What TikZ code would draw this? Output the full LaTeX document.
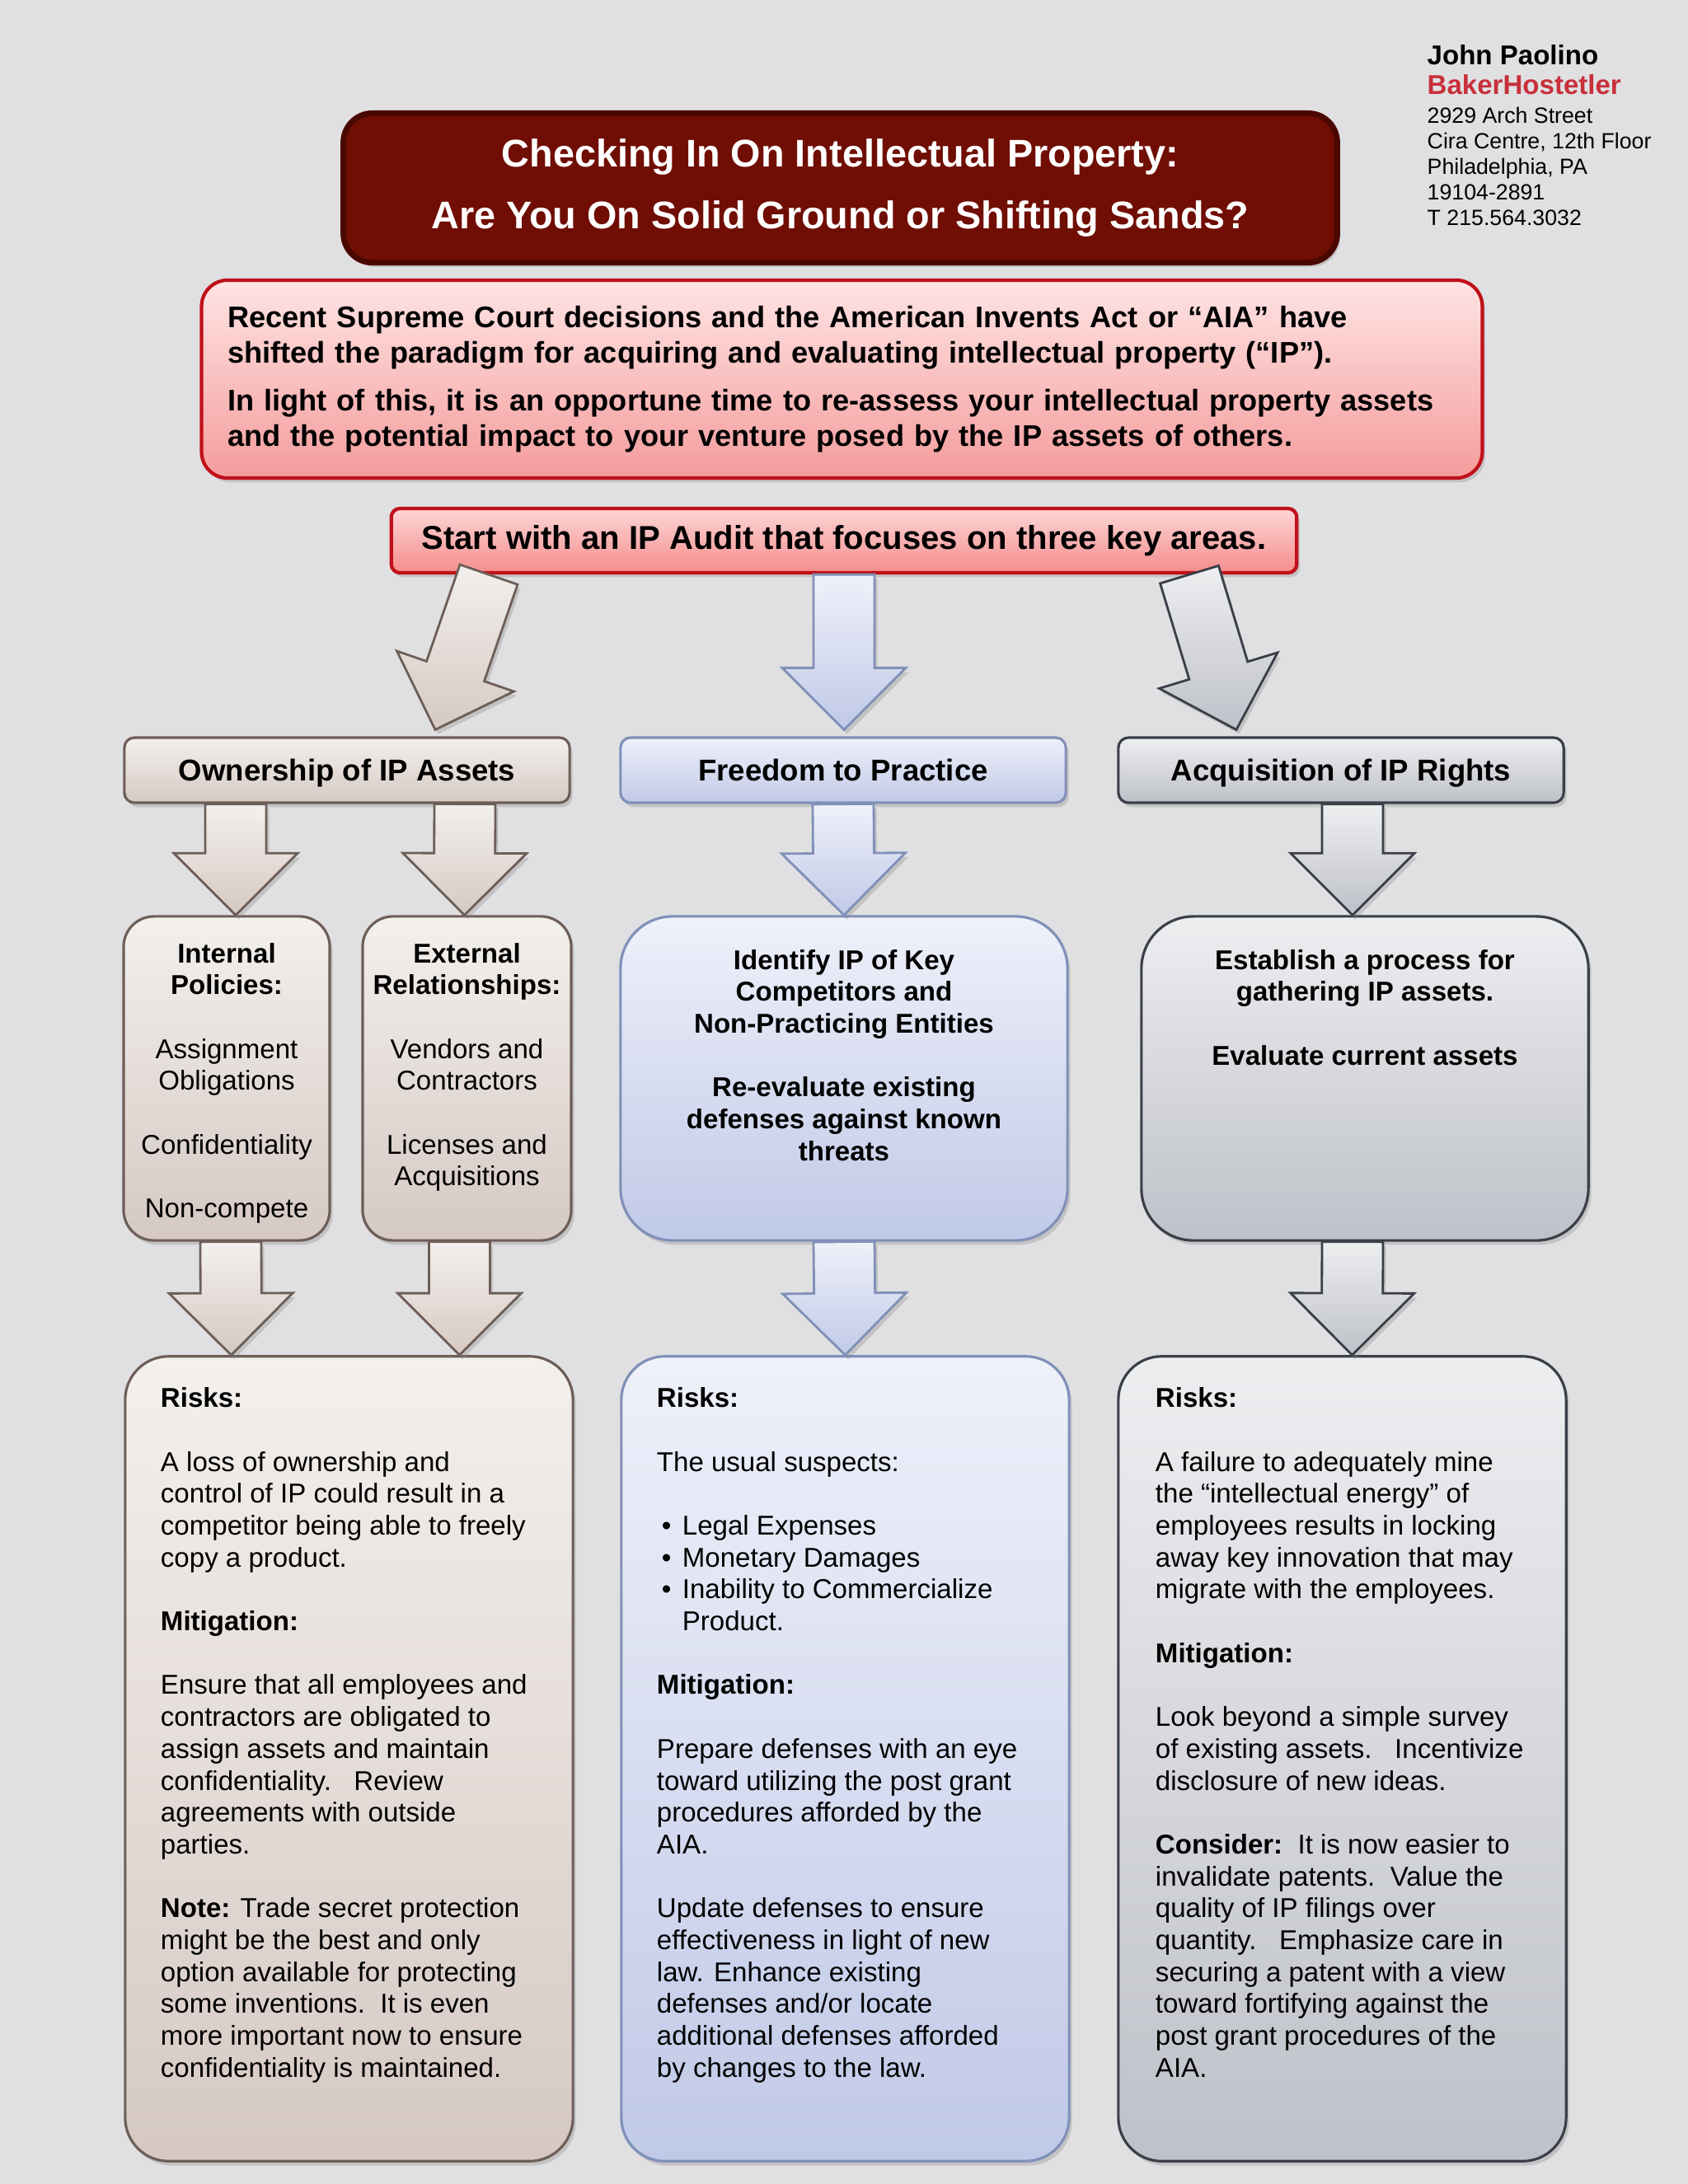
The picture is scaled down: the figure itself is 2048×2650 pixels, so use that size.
\documentclass[tikz,border=0pt]{standalone}
\usepackage{fontspec}
\setmainfont{Liberation Sans}
\usetikzlibrary{arrows.meta, positioning, calc, shadows}

\definecolor{pagebg}{RGB}{224,224,226}
\definecolor{titlered}{RGB}{112,14,4}
\definecolor{titleline}{RGB}{74,8,0}
\definecolor{pinktop}{RGB}{255,228,228}
\definecolor{pinkbot}{RGB}{244,156,156}
\definecolor{pinkline}{RGB}{192,16,26}
\definecolor{brntop}{RGB}{243,240,237}
\definecolor{brnbot}{RGB}{214,201,195}
\definecolor{brnline}{RGB}{110,94,88}
\definecolor{blutop}{RGB}{239,241,250}
\definecolor{blubot}{RGB}{192,201,231}
\definecolor{bluline}{RGB}{128,144,184}
\definecolor{grytop}{RGB}{237,238,240}
\definecolor{grybot}{RGB}{190,193,200}
\definecolor{gryline}{RGB}{58,63,72}
\definecolor{bhred}{RGB}{200,48,58}

% flecha ancha: estilo, inicio, punta
\newcommand{\fatarrow}[3]{%
  \coordinate (hb) at ($(#3)!0.75cm!(#2)$);
  \path[#1] ($(#2)!0.37cm!90:(#3)$) -- ($(hb)!0.37cm!90:(#3)$) -- ($(hb)!0.75cm!90:(#3)$)
    -- (#3) -- ($(hb)!0.75cm!-90:(#3)$) -- ($(hb)!0.37cm!-90:(#3)$) -- ($(#2)!0.37cm!-90:(#3)$) -- cycle;
}

\begin{document}
\begin{tikzpicture}[x=0.01cm, y=-0.01cm, font=\fontsize{9.4}{11}\selectfont,
  softshadow/.style={drop shadow={opacity=0.3, shadow xshift=1pt, shadow yshift=-1.5pt}},
  brn/.style={draw=brnline, top color=brntop, bottom color=brnbot},
  blu/.style={draw=bluline, top color=blutop, bottom color=blubot},
  gry/.style={draw=gryline, top color=grytop, bottom color=grybot},
  hdr/.style={softshadow, line width=0.9pt, rounded corners=3.5pt, minimum width=5.4cm,
    minimum height=0.79cm, text height=0.94em, text depth=0.22em,
    font=\fontsize{10.4}{12}\selectfont\bfseries},
  midbox/.style={softshadow, line width=0.9pt, minimum height=3.93cm},
  lowbox/.style={softshadow, line width=0.9pt, rounded corners=15pt, minimum width=5.43cm,
    minimum height=9.76cm},
  boxtext/.style={inner sep=0pt, align=center},
  risktext/.style={inner sep=0pt, align=left, anchor=north west},
  fat/.style={softshadow, line width=0.8pt}]

% Fondo
\fill[pagebg] (0,0) rectangle (2048,2650);
\useasboundingbox (0,0) rectangle (2048,2650);

% Titulo
\node[softshadow, fill=titlered, draw=titleline, line width=2pt, rounded corners=10pt,
  minimum width=12.05cm, minimum height=1.81cm, text=white, align=center,
  font=\fontsize{13.3}{21.3}\selectfont\bfseries] (title) at (1019.5,228)
  {Checking In On Intellectual Property:\\Are You On Solid Ground or Shifting Sands?};

% Contacto
\node[anchor=north west, inner sep=0pt, align=left, font=\fontsize{7.6}{8.8}\selectfont] (contact) at (1731,54)
  {{\fontsize{9.4}{10}\selectfont\bfseries John Paolino}\\[1.4pt]
   {\fontsize{9.4}{10}\selectfont\bfseries\color{bhred}BakerHostetler}\\[1.2pt]
   2929 Arch Street\\Cira Centre, 12th Floor\\Philadelphia, PA\\19104-2891\\T 215.564.3032};

% Introduccion
\node[softshadow, draw=pinkline, line width=1.2pt, top color=pinktop, bottom color=pinkbot,
  rounded corners=9pt, minimum width=15.53cm, minimum height=2.4cm, text width=14.9cm,
  align=left, font=\fontsize{10.3}{12.2}\selectfont\bfseries] (intro) at (1021.5,460)
  {Recent Supreme Court decisions and the American Invents Act or “AIA” have\\
   shifted the paradigm for acquiring and evaluating intellectual property (“IP”).\\[4.5pt]
   In light of this, it is an opportune time to re-assess your intellectual property assets\\
   and the potential impact to your venture posed by the IP assets of others.};

\node[softshadow, draw=pinkline, line width=1.2pt, top color=pinktop!80!pinkbot, bottom color=pinkbot!90!red,
  rounded corners=3pt, minimum width=10.98cm, minimum height=0.78cm,
  font=\fontsize{11.4}{13}\selectfont\bfseries] (start) at (1024,656)
  {Start with an IP Audit that focuses on three key areas.};

% Tres areas
\node[hdr, brn] (own) at (421,934.5) {Ownership of IP Assets};
\node[hdr, blu] (free) at (1023,934.5) {Freedom to Practice};
\node[hdr, gry] (acq) at (1627,934.5) {Acquisition of IP Rights};

% Segunda fila
\node[midbox, brn, rounded corners=10.5pt, minimum width=2.5cm] (internal) at (275,1308.5) {};
\node[midbox, brn, rounded corners=10.5pt, minimum width=2.53cm] (external) at (566.5,1308.5) {};
\node[midbox, blu, rounded corners=18pt, minimum width=5.42cm] (identify) at (1024,1308.5) {};
\node[midbox, gry, rounded corners=18pt, minimum width=5.42cm] (establish) at (1656,1308.5) {};

\node[boxtext, below=0.33cm of internal.north] (internaltxt)
  {\textbf{Internal}\\\textbf{Policies:}\\[11pt]Assignment\\Obligations\\[11pt]Confidentiality\\[11pt]Non-compete};
\node[boxtext, below=0.33cm of external.north] (externaltxt)
  {\textbf{External}\\\textbf{Relationships:}\\[11pt]Vendors and\\Contractors\\[11pt]Licenses and\\Acquisitions};
\node[boxtext, font=\fontsize{9.4}{11}\selectfont\bfseries, below=0.41cm of identify.north] (identifytxt)
  {Identify IP of Key\\Competitors and\\Non-Practicing Entities\\[11pt]Re-evaluate existing\\defenses against known\\threats};
\node[boxtext, font=\fontsize{9.4}{11}\selectfont\bfseries, below=0.41cm of establish.north] (establishtxt)
  {Establish a process for\\gathering IP assets.\\[11pt]Evaluate current assets};

% Riesgos
\node[lowbox, brn] (risk1) at (423.5,2134) {};
\node[lowbox, blu] (risk2) at (1025.5,2134) {};
\node[lowbox, gry] (risk3) at (1628.5,2134) {};

\node[risktext] (risk1txt) at ($(risk1.north west)+(44,39)$)
  {\textbf{Risks:}\\[11pt]
   A loss of ownership and\\
   control of IP could result in a\\
   competitor being able to freely\\
   copy a product.\\[11pt]
   \textbf{Mitigation:}\\[11pt]
   Ensure that all employees and\\
   contractors are obligated to\\
   assign assets and maintain\\
   confidentiality.\ \ \ Review\\
   agreements with outside\\
   parties.\\[11pt]
   \textbf{Note:} Trade secret protection\\
   might be the best and only\\
   option available for protecting\\
   some inventions.\ \ It is even\\
   more important now to ensure\\
   confidentiality is maintained.};

\node[risktext] (risk2txt) at ($(risk2.north west)+(44,39)$)
  {\textbf{Risks:}\\[11pt]
   The usual suspects:\\[11pt]
   \makebox[8.8pt][l]{\hspace{1.7pt}\textbullet}Legal Expenses\\
   \makebox[8.8pt][l]{\hspace{1.7pt}\textbullet}Monetary Damages\\
   \makebox[8.8pt][l]{\hspace{1.7pt}\textbullet}Inability to Commercialize\\
   \hspace*{8.8pt}Product.\\[11pt]
   \textbf{Mitigation:}\\[11pt]
   Prepare defenses with an eye\\
   toward utilizing the post grant\\
   procedures afforded by the\\
   AIA.\\[11pt]
   Update defenses to ensure\\
   effectiveness in light of new\\
   law. Enhance existing\\
   defenses and/or locate\\
   additional defenses afforded\\
   by changes to the law.};

\node[risktext] (risk3txt) at ($(risk3.north west)+(46,39)$)
  {\textbf{Risks:}\\[11pt]
   A failure to adequately mine\\
   the “intellectual energy” of\\
   employees results in locking\\
   away key innovation that may\\
   migrate with the employees.\\[11pt]
   \textbf{Mitigation:}\\[11pt]
   Look beyond a simple survey\\
   of existing assets.\ \ \ Incentivize\\
   disclosure of new ideas.\\[11pt]
   \textbf{Consider:}\ \ It is now easier to\\
   invalidate patents.\ \ Value the\\
   quality of IP filings over\\
   quantity.\ \ \ Emphasize care in\\
   securing a patent with a view\\
   toward fortifying against the\\
   post grant procedures of the\\
   AIA.};

% Flechas: auditoria -> areas
\coordinate (a1s) at ($(start.south)+(-431,0)$);
\coordinate (a1e) at ($(own.north)+(107,-8)$);
\coordinate (a2e) at ($(free.north)+(1,-8)$);
\coordinate (a3s) at ($(start.south)+(419,0)$);
\coordinate (a3e) at ($(acq.north)+(-127,-8)$);
\fatarrow{fat, brn}{a1s}{a1e}
\fatarrow{fat, blu}{start.south}{a2e}
\fatarrow{fat, gry}{a3s}{a3e}

% Flechas: areas -> segunda fila
\coordinate (b1s) at ($(own.south)+(-135,0)$);
\coordinate (b1e) at ($(internal.north)+(11,0)$);
\coordinate (b2s) at ($(own.south)+(143,0)$);
\coordinate (b2e) at ($(external.north)+(-3,0)$);
\coordinate (b4s) at ($(acq.south)+(14,0)$);
\coordinate (b4e) at ($(establish.north)+(-15,0)$);
\fatarrow{fat, brn}{b1s}{b1e}
\fatarrow{fat, brn}{b2s}{b2e}
\fatarrow{fat, blu}{free.south}{identify.north}
\fatarrow{fat, gry}{b4s}{b4e}

% Flechas: segunda fila -> riesgos
\coordinate (c1s) at ($(internal.south)+(5,0)$);
\coordinate (c1e) at ($(risk1.north)+(-143,0)$);
\coordinate (c2s) at ($(external.south)+(-9,0)$);
\coordinate (c2e) at ($(risk1.north)+(134,0)$);
\coordinate (c4s) at ($(establish.south)+(-15,0)$);
\coordinate (c4e) at ($(risk3.north)+(12,0)$);
\fatarrow{fat, brn}{c1s}{c1e}
\fatarrow{fat, brn}{c2s}{c2e}
\fatarrow{fat, blu}{identify.south}{risk2.north}
\fatarrow{fat, gry}{c4s}{c4e}

\end{tikzpicture}
\end{document}
